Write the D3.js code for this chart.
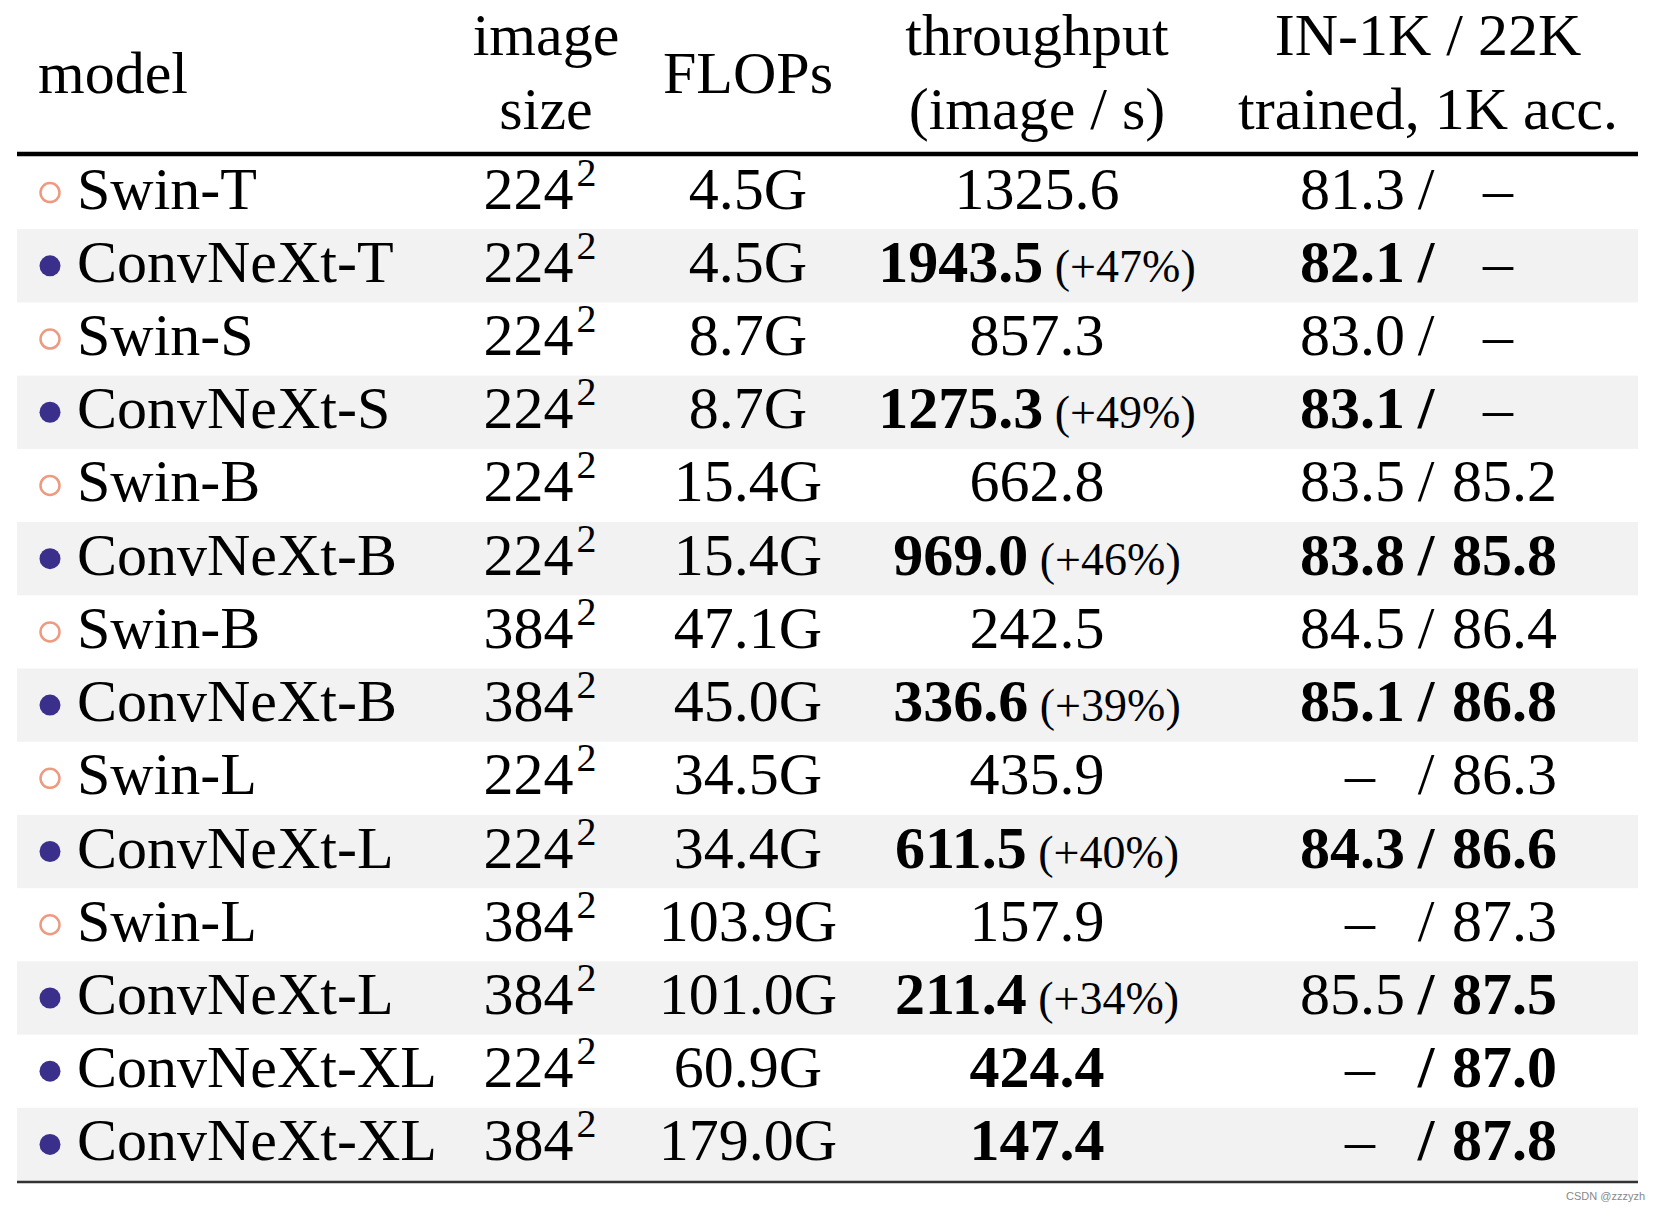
<!DOCTYPE html>
<html><head><meta charset="utf-8">
<script src="https://cdn.jsdelivr.net/npm/d3@7"></script>
<style>body{margin:0;background:#fff}svg{display:block}</style>
</head><body><svg id="c" width="1660" height="1218"></svg>
<script>
const models=["Swin-T","ConvNeXt-T","Swin-S","ConvNeXt-S","Swin-B","ConvNeXt-B","Swin-B","ConvNeXt-B","Swin-L","ConvNeXt-L","Swin-L","ConvNeXt-L","ConvNeXt-XL","ConvNeXt-XL"];
const isConv=[0,1,0,1,0,1,0,1,0,1,0,1,1,1];
const imgSize=["224","224","224","224","224","224","384","384","224","224","384","384","224","384"];
const flops=["4.5G","4.5G","8.7G","8.7G","15.4G","15.4G","47.1G","45.0G","34.5G","34.4G","103.9G","101.0G","60.9G","179.0G"];
const thr=["1325.6","1943.5","857.3","1275.3","662.8","969.0","242.5","336.6","435.9","611.5","157.9","211.4","424.4","147.4"];
const thrGain=["","(+47%)","","(+49%)","","(+46%)","","(+39%)","","(+40%)","","(+34%)","",""];
const thrBold=[0,1,0,1,0,1,0,1,0,1,0,1,1,1];
const acc1k=["81.3","82.1","83.0","83.1","83.5","83.8","84.5","85.1","–","84.3","–","85.5","–","–"];
const acc22k=["–","–","–","–","85.2","85.8","86.4","86.8","86.3","86.6","87.3","87.5","87.0","87.8"];
const bold1k=[0,1,0,1,0,1,0,1,0,1,0,0,0,0];
const bold22k=[0,0,0,0,0,1,0,1,0,1,0,1,1,1];

const svg=d3.select("#c");
const F="'Liberation Serif','Times New Roman',serif";
const fs=60;
const y=d3.scaleBand().domain(d3.range(models.length)).range([156,1181]);
const L=17,R=1638;
const cx={img:548,flops:748,thr:1037,slash:1426};

svg.selectAll("rect.band").data(d3.range(models.length).filter(i=>i%2==1)).join("rect")
 .attr("x",L).attr("width",R-L).attr("y",i=>y(i)).attr("height",y.bandwidth()).attr("fill","#f2f2f2");
svg.append("line").attr("x1",L).attr("x2",R).attr("y1",154).attr("y2",154).attr("stroke","#000").attr("stroke-width",4.5);
svg.append("line").attr("x1",L).attr("x2",R).attr("y1",1182).attr("y2",1182).attr("stroke","#333").attr("stroke-width",2.5);

const T=(x,yy,txt,anchor="middle",w="normal",size=fs)=>svg.append("text").attr("x",x).attr("y",yy).attr("text-anchor",anchor)
 .attr("font-family",F).attr("font-size",size).attr("font-weight",w).attr("fill","#000").text(txt);
T(38,93,"model","start");
T(cx.img-2,55,"image");T(cx.img-2,129,"size");
T(cx.flops,93,"FLOPs");
T(cx.thr,55,"throughput");T(cx.thr,129,"(image / s)");
T(1428,55,"IN-1K / 22K");T(1428,129,"trained, 1K acc.");

const base=i=>y(i)+y.bandwidth()/2+16;
models.forEach((m,i)=>{
  const b=base(i), c=y(i)+y.bandwidth()/2;
  svg.append("circle").attr("cx",50).attr("cy",c).attr("r",isConv[i]?10.5:9.5)
   .attr("fill",isConv[i]?"#3b2f8c":"none").attr("stroke",isConv[i]?"#3b2f8c":"#ee9a80").attr("stroke-width",isConv[i]?0:2.5);
  T(77,b,m,"start");
  const t=T(cx.img-8,b,imgSize[i]);
  t.append("tspan").attr("font-size",40).attr("dx",3).attr("dy",-23).text("2");
  T(cx.flops,b,flops[i]);
  const th=T(cx.thr,b,"");
  th.append("tspan").attr("font-weight",thrBold[i]?"bold":"normal").text(thr[i]);
  if(thrGain[i]) th.append("tspan").attr("font-size",46).text(" "+thrGain[i]);
  T(acc1k[i]==="–"?1360:1405,b,acc1k[i],acc1k[i]==="–"?"middle":"end",bold1k[i]?"bold":"normal");
  T(cx.slash,b,"/","middle",(bold1k[i]||bold22k[i])?"bold":"normal");
  T(acc22k[i]==="–"?1498:1452,b,acc22k[i],acc22k[i]==="–"?"middle":"start",bold22k[i]?"bold":"normal");
});
svg.append("text").attr("x",1645).attr("y",1200).attr("text-anchor","end").attr("font-family","'Liberation Sans',sans-serif")
 .attr("font-size",11).attr("fill","#888").text("CSDN @zzzyzh");
</script></body></html>
